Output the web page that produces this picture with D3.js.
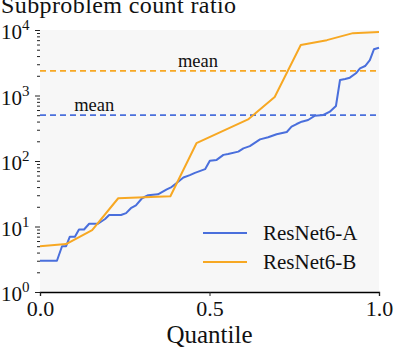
<!DOCTYPE html>
<html>
<head>
<meta charset="utf-8">
<script src="https://cdn.jsdelivr.net/npm/d3@7"></script>
<style>
  body { margin: 0; background: #fff; }
  text { font-family: "Liberation Serif", "DejaVu Serif", serif; }
</style>
</head>
<body>
<script>
// ResNet6-A as [quantile, ratio] vertices
const quantA = [0, 0.05, 0.065, 0.077, 0.088, 0.103, 0.115, 0.13, 0.145, 0.171,
  0.192, 0.204, 0.239, 0.254, 0.268, 0.283, 0.301, 0.319, 0.348, 0.374,
  0.388, 0.403, 0.423, 0.442, 0.457, 0.487, 0.501, 0.521, 0.541, 0.555,
  0.585, 0.6, 0.619, 0.649, 0.673, 0.698, 0.728, 0.742, 0.757, 0.772,
  0.791, 0.811, 0.836, 0.855, 0.873, 0.885, 0.9, 0.914, 0.932, 0.944,
  0.959, 0.973, 0.985, 1];
const ratioA = [3, 3, 5, 5, 7, 7, 9, 9, 11, 11,
  13, 15, 15, 16, 19, 21, 27, 30, 31, 37,
  40, 46, 56, 61, 66, 75, 101, 104, 124, 128,
  139, 156, 169, 214, 230, 256, 277, 334, 367, 398,
  423, 492, 504, 566, 692, 1725, 1786, 1871, 2183, 2600,
  2820, 3480, 5070, 5370];

// ResNet6-B, 14 evenly spaced quantiles
const ratioB = [5.0, 5.4, 8.8, 27, 28, 29, 187, 286, 437, 950, 5900, 7000, 8950, 9300];

const meanA = 500;
const meanB = 2370;

const seriesNames = ["ResNet6-A", "ResNet6-B"];
const colors = ["#4a6fdc", "#f7a823"];
const xTicks = [0, 0.5, 1];
const yTicks = [1, 10, 100, 1000, 10000];

const width = 395;
const height = 352;
const margin = { top: 30, right: 16, bottom: 60, left: 40 };
const serif = "Liberation Serif";

const x = d3.scaleLinear().domain([0, 1]).range([margin.left, width - margin.right]);
const y = d3.scaleLog().domain([1, 1e4]).range([height - margin.bottom, margin.top]);

const svg = d3.select("body").append("svg")
  .attr("width", width)
  .attr("height", height);

svg.append("rect")
  .attr("x", x(0)).attr("y", y(1e4))
  .attr("width", x(1) - x(0)).attr("height", y(1) - y(1e4))
  .attr("fill", "#f7f7f7");

// y axis: majors, then minors
const minorTicks = [];
yTicks.slice(0, -1).forEach((d) => {
  for (let k = 2; k < 10; k++) minorTicks.push(d * k);
});

const yAxis = svg.append("g").attr("transform", `translate(${margin.left},0)`);
yAxis.call(d3.axisLeft(y).tickValues(yTicks).tickSize(5).tickFormat(""));
yAxis.append("g").call(d3.axisLeft(y).tickValues(minorTicks).tickSize(3).tickFormat(""));
yAxis.selectAll(".domain").remove();
yAxis.selectAll("line").attr("stroke", "#222");

const yLabels = svg.append("g").attr("font-family", serif).attr("font-size", 21).attr("fill", "#111");
yTicks.forEach((d) => {
  const t = yLabels.append("text")
    .attr("x", 1)
    .attr("y", y(d) + 9);
  t.append("tspan").text("10");
  t.append("tspan").attr("font-size", 15).attr("dy", -9).text(Math.round(Math.log10(d)));
});

// x axis
const xAxis = svg.append("g")
  .attr("transform", `translate(0,${y(1)})`)
  .call(d3.axisBottom(x).tickValues(xTicks).tickSize(4).tickPadding(4).tickFormat(d3.format(".1f")));
xAxis.attr("font-family", serif);
xAxis.select(".domain").attr("stroke", "#000").attr("stroke-width", 1.3);
xAxis.selectAll("line").attr("stroke", "#222");
xAxis.selectAll("text")
  .attr("font-size", 22)
  .attr("fill", "#111");

svg.append("text")
  .attr("x", (x(0) + x(1)) / 2)
  .attr("y", 343)
  .attr("text-anchor", "middle")
  .attr("font-family", serif)
  .attr("font-size", 25)
  .attr("fill", "#111")
  .text("Quantile");

svg.append("text")
  .attr("x", 1)
  .attr("y", 13)
  .attr("font-family", serif)
  .attr("font-size", 24)
  .attr("letter-spacing", 0.4)
  .attr("fill", "#111")
  .text("Subproblem count ratio");

// mean lines
[[meanA, colors[0], 0.16], [meanB, colors[1], 0.466]].forEach(([m, c, lx]) => {
  svg.append("line")
    .attr("x1", x(0)).attr("x2", x(1))
    .attr("y1", y(m)).attr("y2", y(m))
    .attr("stroke", c)
    .attr("stroke-width", 1.8)
    .attr("stroke-dasharray", "6,4");
  svg.append("text")
    .attr("x", x(lx))
    .attr("y", y(m) - 4)
    .attr("text-anchor", "middle")
    .attr("font-family", serif)
    .attr("font-size", 18.5)
    .attr("fill", "#111")
    .text("mean");
});

// series
const line = d3.line().x((d) => x(d[0])).y((d) => y(d[1]));
const dataA = quantA.map((q, i) => [q, ratioA[i]]);
const dataB = ratioB.map((v, i) => [i / (ratioB.length - 1), v]);

[dataA, dataB].forEach((data, i) => {
  svg.append("path")
    .datum(data)
    .attr("d", line)
    .attr("fill", "none")
    .attr("stroke", colors[i])
    .attr("stroke-width", 2)
    .attr("stroke-linejoin", "round");
});

// legend
const legend = svg.append("g").attr("font-family", serif).attr("font-size", 21).attr("fill", "#111");
seriesNames.forEach((name, i) => {
  const ly = 233 + i * 29;
  legend.append("line")
    .attr("x1", 203).attr("x2", 247)
    .attr("y1", ly).attr("y2", ly)
    .attr("stroke", colors[i])
    .attr("stroke-width", 2);
  legend.append("text")
    .attr("x", 263)
    .attr("y", ly + 6.5)
    .text(name);
});
</script>
</body>
</html>
